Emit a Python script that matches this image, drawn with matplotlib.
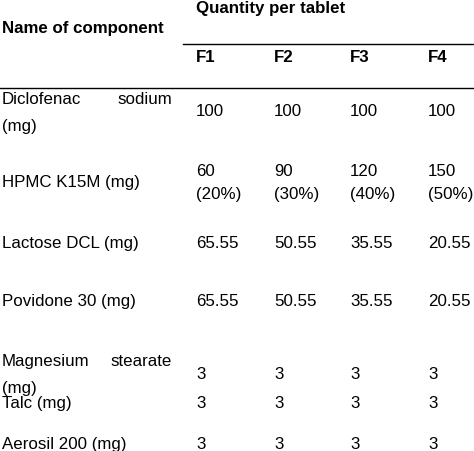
import matplotlib
matplotlib.use("Agg")
import matplotlib.pyplot as plt

columns = ["F1", "F2", "F3", "F4"]
components = ["Diclofenac sodium (mg)", "HPMC K15M (mg)", "Lactose DCL (mg)", "Povidone 30 (mg)",
              "Magnesium stearate (mg)", "Talc (mg)", "Aerosil 200 (mg)"]
values = [["100", "100", "100", "100"],
          ["60\n(20%)", "90\n(30%)", "120\n(40%)", "150\n(50%)"],
          ["65.55", "50.55", "35.55", "20.55"],
          ["65.55", "50.55", "35.55", "20.55"],
          ["3", "3", "3", "3"],
          ["3", "3", "3", "3"],
          ["3", "3", "3", "3"]]

fig = plt.figure(figsize=(4.74, 4.52), dpi=100)
ax = fig.add_axes([0, 0, 1, 1])
ax.set_xlim(0, 474); ax.set_ylim(452, 0); ax.axis("off")
fs = 12.2
fam = "Liberation Sans"
ax.text(2, 28, "Name of component", fontsize=fs, weight="bold", family=fam, va="center")
ax.text(196, 8, "Quantity per tablet", fontsize=fs, weight="bold", family=fam, va="center")
ax.plot([183, 474], [45, 45], color="black", lw=1)
ax.plot([0, 474], [89, 89], color="black", lw=1)
colx = [196, 274, 350, 428]
for x, c in zip(colx, columns):
    ax.text(x, 57, c, fontsize=fs, weight="bold", family=fam, va="center")

rowy = [112, 183, 244, 302, 375, 404, 445]
two_line = {0: ("Diclofenac", "sodium"), 4: ("Magnesium", "stearate")}
for i, (name, y) in enumerate(zip(components, rowy)):
    if i in two_line:
        a, b = two_line[i]
        ax.text(2, y - 13, a, fontsize=fs, family=fam, va="center")
        ax.text(172, y - 13, b, fontsize=fs, family=fam, va="center", ha="right")
        ax.text(2, y + 14, "(mg)", fontsize=fs, family=fam, va="center")
    else:
        ax.text(2, y, name, fontsize=fs, family=fam, va="center")
    for x, v in zip(colx, values[i]):
        ax.text(x, y, v, fontsize=fs, family=fam, va="center", linespacing=1.6)

fig.savefig("out.png", dpi=100)
